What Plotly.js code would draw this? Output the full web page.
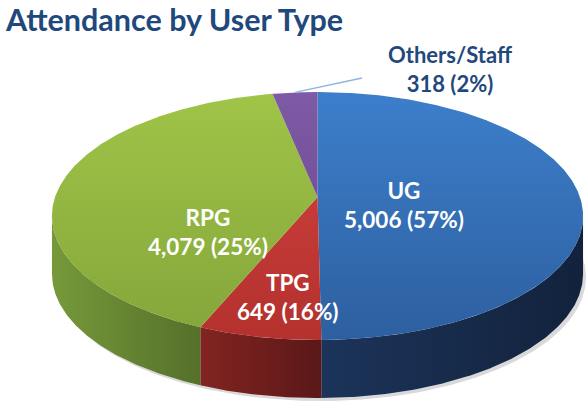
<!DOCTYPE html>
<html>
<head>
<meta charset="utf-8">
<script src="https://cdn.plot.ly/plotly-3.0.1.min.js"></script>
<style>html,body{margin:0;padding:0;background:#fff;}#chart{width:588px;height:408px;}</style>
</head>
<body>
<div id="chart"></div>
<script>
// ---- data ----
const categories = ['UG', 'TPG', 'RPG', 'Others/Staff'];
const values = [5006, 649, 4079, 318];
const valueLabels = ['5,006', '649', '4,079', '318'];
const percentLabels = ['57%', '16%', '25%', '2%'];

// ---- styling / geometry (layout only) ----
const topColors = {
  'UG': ['#3d7fcc', '#2d5f9f'],
  'TPG': ['#d4433f', '#b3312e'],
  'RPG': ['#a0c548', '#84a53a'],
  'Others/Staff': ['#7f5aa6', '#644689']
};
const wallColors = {
  'UG': ['#1c345a', '#12223c'],
  'TPG': ['#822421', '#5a1818'],
  'RPG': ['#76993a', '#55702a'],
  'Others/Staff': ['#5a3f7a', '#4a3366']
};
const labelPos = {
  'UG': [404, 205],
  'TPG': [288, 297],
  'RPG': [208, 232]
};
const outsideLabelPos = [450, 69];
const leaderEnd = [362, 78];

const CX = 317.5, CY = 197, R = 262.4, RY = 121.1, D = 6.52, H = 58;

function proj(thetaDeg, f) {
  const t = thetaDeg * Math.PI / 180;
  const u = f * Math.sin(t), v = -f * Math.cos(t);
  const s = D / (D - v);
  return [CX + R * u * s, CY + RY * v * s];
}

// visible wall range (between silhouette tangent points)
const thetaR = Math.acos(-1 / D) * 180 / Math.PI;   // right extreme
const thetaL = 360 - thetaR;                         // left extreme

const total = values.reduce((a, b) => a + b, 0);
const slices = [];
let acc = 0;
values.forEach((v, i) => {
  const a = acc / total * 360;
  acc += v;
  const b = acc / total * 360;
  slices.push({ name: categories[i], a: a, b: b });
});

function arc(a, b, dy) {
  const xs = [], ys = [];
  const n = Math.max(2, Math.ceil((b - a) / 0.5));
  for (let k = 0; k <= n; k++) {
    const th = a + (b - a) * k / n;
    const p = proj(th, 1);
    xs.push(p[0]); ys.push(p[1] + (dy || 0));
  }
  return [xs, ys];
}

const traces = [];

// shadow under the walls
{
  const [bx, by] = arc(thetaR - 10, thetaL + 10, H);
  const [tx, ty] = arc(thetaR - 10, thetaL + 10, 0);
  const xs = bx.map(x => x + 3).concat(tx.slice().reverse());
  const ys = by.map(y => y + 3).concat(ty.slice().reverse());
  traces.push({ type: 'scatter', mode: 'lines', x: xs, y: ys, fill: 'toself',
    fillcolor: 'rgba(0,0,0,0.15)', line: { width: 0 }, hoverinfo: 'skip', showlegend: false });
}

// walls
slices.forEach(s => {
  const a = Math.max(s.a, thetaR), b = Math.min(s.b, thetaL);
  if (b <= a) return;
  const [tx, ty] = arc(a, b, 0);
  const [bx, by] = arc(a, b, H);
  const xs = tx.concat(bx.slice().reverse());
  const ys = ty.concat(by.slice().reverse());
  const c = wallColors[s.name];
  traces.push({
    type: 'scatter', mode: 'lines', x: xs, y: ys, fill: 'toself',
    fillcolor: c[0],
    fillgradient: { type: 'horizontal', colorscale: [[0, c[0]], [1, c[1]]],
      start: Math.min(...xs), stop: Math.max(...xs) },
    line: { width: 0, color: c[0] }, hoverinfo: 'skip', showlegend: false
  });
});

// top faces
slices.forEach((s, i) => {
  const [ax, ay] = arc(s.a, s.b, 0);
  const xs = [CX].concat(ax, [CX]);
  const ys = [CY].concat(ay, [CY]);
  const c = topColors[s.name];
  traces.push({
    type: 'scatter', mode: 'lines', x: xs, y: ys, fill: 'toself',
    fillcolor: c[0],
    fillgradient: { type: 'vertical', colorscale: [[0, c[0]], [1, c[1]]],
      start: CY - RY * 0.9, stop: CY + RY * 1.2 },
    line: { width: 0, color: c[0] },
    name: s.name,
    text: valueLabels[i] + ' (' + percentLabels[i] + ')',
    hoverinfo: 'name+text', showlegend: false
  });
});

// leader line for the small slice
{
  const s = slices[3];
  const p = proj((s.a + s.b) / 2, 1);
  traces.push({ type: 'scatter', mode: 'lines', x: [p[0], leaderEnd[0]], y: [p[1], leaderEnd[1]],
    line: { width: 1.3, color: '#8db4e2' }, hoverinfo: 'skip', showlegend: false });
}

const annotations = [];
categories.forEach((c, i) => {
  const txt = c + '<br>' + valueLabels[i] + ' (' + percentLabels[i] + ')';
  if (labelPos[c]) {
    annotations.push({ x: labelPos[c][0], y: labelPos[c][1], xref: 'x', yref: 'y',
      text: txt, showarrow: false, align: 'center',
      font: { family: 'Lato, sans-serif', size: 22.5, color: '#ffffff', weight: 'bold' } });
  } else {
    annotations.push({ x: outsideLabelPos[0], y: outsideLabelPos[1], xref: 'x', yref: 'y',
      text: txt, showarrow: false, align: 'center',
      font: { family: 'Lato, sans-serif', size: 22, color: '#1f497d', weight: 'bold' } });
  }
});

const layout = {
  width: 588, height: 408,
  margin: { l: 0, r: 0, t: 0, b: 0 },
  paper_bgcolor: '#ffffff', plot_bgcolor: '#ffffff',
  title: { text: '<b>Attendance by User Type</b>', x: 6 / 588, xanchor: 'left', xref: 'container',
    y: 1 - 20 / 408, yanchor: 'middle', yref: 'container',
    font: { family: 'Lato, sans-serif', size: 30.5, color: '#1f497d' } },
  xaxis: { range: [0, 588], visible: false, fixedrange: true },
  yaxis: { range: [408, 0], visible: false, fixedrange: true },
  annotations: annotations,
  showlegend: false
};

Plotly.newPlot('chart', traces, layout, { displayModeBar: false, staticPlot: false });
</script>
</body>
</html>
